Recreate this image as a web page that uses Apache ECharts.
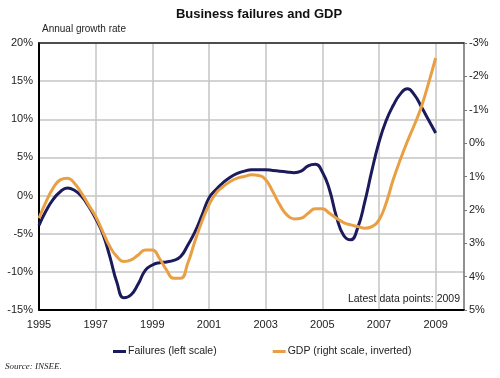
<!DOCTYPE html>
<html>
<head>
<meta charset="utf-8">
<script src="https://cdn.jsdelivr.net/npm/echarts@6/dist/echarts.min.js"></script>
<style>
  html, body { margin: 0; padding: 0; background: #fff; }
  #chart { width: 500px; height: 378px; }
</style>
</head>
<body>
<div id="chart"></div>
<script>
// quarterly points, annual growth rate in %
const quarters = [
  1995, 1995.25, 1995.5, 1995.75, 1996, 1996.25, 1996.5, 1996.75,
  1997, 1997.25, 1997.5, 1997.75, 1998, 1998.25, 1998.5, 1998.75,
  1999, 1999.25, 1999.5, 1999.75, 2000, 2000.25, 2000.5, 2000.75,
  2001, 2001.25, 2001.5, 2001.75, 2002, 2002.25, 2002.5, 2002.75,
  2003, 2003.25, 2003.5, 2003.75, 2004, 2004.25, 2004.5, 2004.75,
  2005, 2005.25, 2005.5, 2005.75, 2006, 2006.25, 2006.5, 2006.75,
  2007, 2007.25, 2007.5, 2007.75, 2008, 2008.25, 2008.5, 2008.75,
  2009
]
const failures = [
  -3.9, -2.0, -0.5, 0.5, 1.0, 0.7, -0.1, -1.4,
  -3.0, -5.0, -8.0, -11.4, -13.4, -13.0, -11.6, -9.8,
  -9.1, -8.8, -8.7, -8.5, -8.0, -6.5, -4.8, -2.6,
  -0.3, 0.8, 1.7, 2.4, 2.9, 3.2, 3.4, 3.4,
  3.4, 3.3, 3.2, 3.1, 3.0, 3.2, 3.9, 4.1,
  3.1, 0.8, -2.8, -5.2, -5.8, -4.2, -0.8, 3.3,
  7.0, 9.8, 11.8, 13.3, 14.0, 13.2, 11.6, 9.9,
  8.2
]
const gdp = [
  2.25, 1.75, 1.35, 1.1, 1.05, 1.2, 1.5, 1.85,
  2.2, 2.65, 3.1, 3.4, 3.55, 3.5, 3.35, 3.2,
  3.2, 3.45, 3.8, 4.05, 4.05, 3.6, 2.95, 2.35,
  1.85, 1.5, 1.3, 1.15, 1.05, 1.0, 0.95, 0.97,
  1.1, 1.45, 1.85, 2.15, 2.27, 2.25, 2.1, 1.97,
  1.97, 2.1, 2.25, 2.38, 2.45, 2.5, 2.55, 2.5,
  2.3, 1.8, 1.1, 0.5, -0.05, -0.55, -1.1, -1.8,
  -2.55
]
const firstYear = 1995
const lastYear = 2010

const font = 'Liberation Sans, Arial, sans-serif'
const navy = '#1b1b5c'
const orange = '#e9a044'

const chart = echarts.init(document.getElementById('chart'))
chart.setOption({
  animation: false,
  textStyle: { fontFamily: font },
  title: {
    text: 'Business failures and GDP',
    left: 254,
    textAlign: 'center',
    top: 3,
    textStyle: { fontSize: 13, fontWeight: 'bold', color: '#111', fontFamily: font }
  },
  grid: { left: 39, right: 36, top: 43, bottom: 68 },
  legend: {
    left: 108,
    top: 341,
    itemGap: 56,
    itemWidth: 13,
    itemHeight: 3,
    icon: 'rect',
    textStyle: { fontSize: 10.5, color: '#222', padding: [0, 0, 0, -3] },
    data: ['Failures (left scale)', 'GDP (right scale, inverted)']
  },
  xAxis: [{
    type: 'value',
    min: 0,
    max: lastYear - firstYear,
    interval: 2,
    axisLine: { onZero: false, lineStyle: { color: '#000', width: 2 } },
    axisTick: { show: false },
    axisLabel: {
      color: '#222',
      fontSize: 11,
      margin: 9,
      formatter: v => (v > 14 ? '' : String(firstYear + v))
    },
    splitLine: { show: true, lineStyle: { color: '#c4c4c4', width: 1.5 } }
  }, {
    type: 'value',
    position: 'top',
    min: 0,
    max: lastYear - firstYear,
    axisLine: { show: true, onZero: false, lineStyle: { color: '#222', width: 1.5 } },
    axisTick: { show: false },
    axisLabel: { show: false },
    splitLine: { show: false }
  }],
  yAxis: [{
    type: 'value',
    min: -15,
    max: 20,
    interval: 5,
    axisLine: { show: true, onZero: false, lineStyle: { color: '#000', width: 2 } },
    axisTick: { show: false },
    axisLabel: { color: '#222', fontSize: 11, margin: 6, formatter: '{value}%' },
    splitLine: { show: true, lineStyle: { color: '#c4c4c4', width: 1.5 } }
  }, {
    type: 'value',
    position: 'right',
    inverse: true,
    min: -3,
    max: 5,
    interval: 1,
    axisLine: { show: true, onZero: false, lineStyle: { color: '#7a7a7a', width: 1.5 } },
    axisTick: { show: true, length: 3, lineStyle: { color: '#7a7a7a' } },
    axisLabel: { color: '#222', fontSize: 11, margin: 5, formatter: '{value}%' },
    splitLine: { show: false }
  }],
  graphic: [{
    type: 'text',
    left: 42,
    top: 24,
    style: { text: 'Annual growth rate', fontSize: 10, fill: '#222', fontFamily: font }
  }, {
    type: 'text',
    right: 40,
    top: 294,
    style: { text: 'Latest data points: 2009', fontSize: 10.5, fill: '#222', fontFamily: font }
  }, {
    type: 'text',
    left: 5,
    top: 362,
    style: { text: 'Source: INSEE.', fontSize: 9, fontStyle: 'italic', fill: '#222', fontFamily: 'Liberation Serif, serif' }
  }],
  series: [{
    name: 'Failures (left scale)',
    type: 'line',
    xAxisIndex: 0,
    yAxisIndex: 0,
    smooth: true,
    showSymbol: false,
    color: navy,
    lineStyle: { color: navy, width: 3 },
    data: quarters.map((q, i) => [q - firstYear, failures[i]])
  }, {
    name: 'GDP (right scale, inverted)',
    type: 'line',
    xAxisIndex: 0,
    yAxisIndex: 1,
    smooth: true,
    showSymbol: false,
    color: orange,
    lineStyle: { color: orange, width: 3 },
    data: quarters.map((q, i) => [q - firstYear, gdp[i]])
  }]
})
</script>
</body>
</html>
